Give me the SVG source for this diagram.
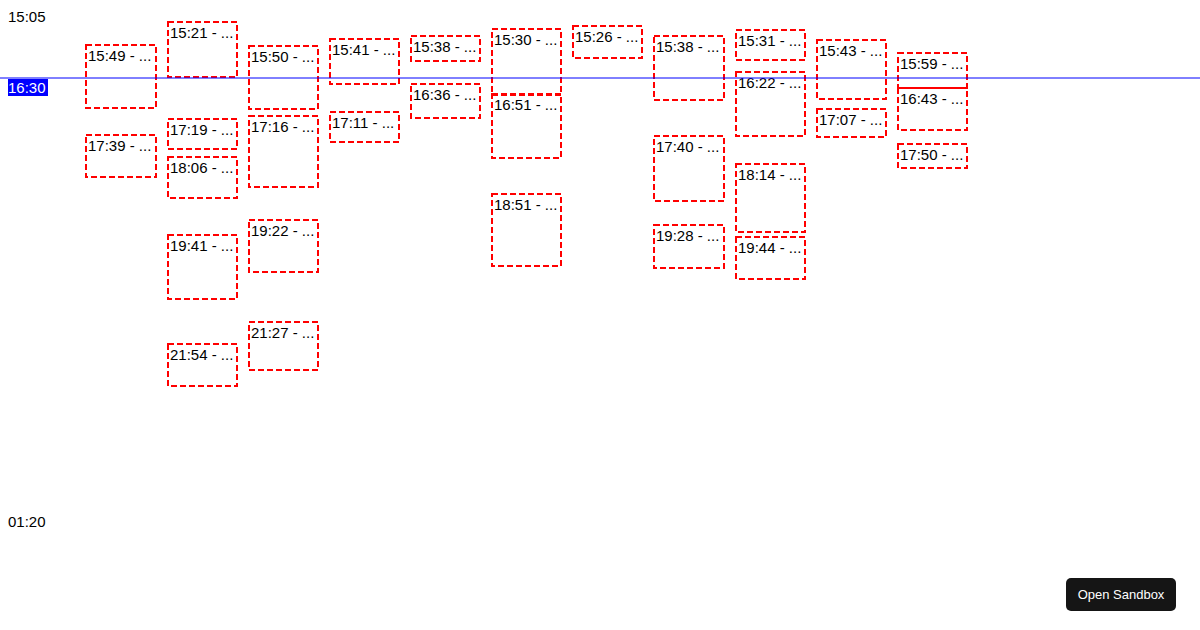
<svg xmlns="http://www.w3.org/2000/svg" width="1200" height="630" viewBox="0 0 1200 630">
<style>
.b{fill:none;stroke:#f00;stroke-width:2;stroke-dasharray:6 3}
text{font-family:"Liberation Sans",Arial,sans-serif;font-size:15px;fill:#000}
</style>
<rect width="1200" height="630" fill="#fff"/>
<text x="8" y="22">15:05</text>
<text x="8" y="527">01:20</text>
<g id="boxes">
<g id="n1"><rect class="b" x="86" y="45" width="70" height="63"/><text x="88" y="61">15:49 - ...</text></g>
<g id="n2"><rect class="b" x="86" y="135" width="70" height="42"/><text x="88" y="151">17:39 - ...</text></g>
<g id="n3"><rect class="b" x="168" y="22" width="69" height="55"/><text x="170" y="38">15:21 - ...</text></g>
<g id="n4"><rect class="b" x="168" y="119" width="69" height="30"/><text x="170" y="135">17:19 - ...</text></g>
<g id="n5"><rect class="b" x="168" y="157" width="69" height="41"/><text x="170" y="173">18:06 - ...</text></g>
<g id="n6"><rect class="b" x="168" y="235" width="69" height="64"/><text x="170" y="251">19:41 - ...</text></g>
<g id="n7"><rect class="b" x="168" y="344" width="69" height="42"/><text x="170" y="360">21:54 - ...</text></g>
<g id="n8"><rect class="b" x="249" y="46" width="69" height="63"/><text x="251" y="62">15:50 - ...</text></g>
<g id="n9"><rect class="b" x="249" y="116" width="69" height="71"/><text x="251" y="132">17:16 - ...</text></g>
<g id="n10"><rect class="b" x="249" y="220" width="69" height="52"/><text x="251" y="236">19:22 - ...</text></g>
<g id="n11"><rect class="b" x="249" y="322" width="69" height="48"/><text x="251" y="338">21:27 - ...</text></g>
<g id="n12"><rect class="b" x="330" y="39" width="69" height="45"/><text x="332" y="55">15:41 - ...</text></g>
<g id="n13"><rect class="b" x="330" y="112" width="69" height="30"/><text x="332" y="128">17:11 - ...</text></g>
<g id="n14"><rect class="b" x="411" y="36" width="69" height="25"/><text x="413" y="52">15:38 - ...</text></g>
<g id="n15"><rect class="b" x="411" y="84" width="69" height="34"/><text x="413" y="100">16:36 - ...</text></g>
<g id="n16"><rect class="b" x="492" y="29" width="69" height="66"/><text x="494" y="45">15:30 - ...</text></g>
<g id="n17"><rect class="b" x="492" y="94" width="69" height="64"/><text x="494" y="110">16:51 - ...</text></g>
<g id="n18"><rect class="b" x="492" y="194" width="69" height="72"/><text x="494" y="210">18:51 - ...</text></g>
<g id="n19"><rect class="b" x="573" y="26" width="69" height="32"/><text x="575" y="42">15:26 - ...</text></g>
<g id="n20"><rect class="b" x="654" y="36" width="70" height="64"/><text x="656" y="52">15:38 - ...</text></g>
<g id="n21"><rect class="b" x="654" y="136" width="70" height="65"/><text x="656" y="152">17:40 - ...</text></g>
<g id="n22"><rect class="b" x="654" y="225" width="70" height="43"/><text x="656" y="241">19:28 - ...</text></g>
<g id="n23"><rect class="b" x="736" y="30" width="69" height="30"/><text x="738" y="46">15:31 - ...</text></g>
<g id="n24"><rect class="b" x="736" y="72" width="69" height="64"/><text x="738" y="88">16:22 - ...</text></g>
<g id="n25"><rect class="b" x="736" y="164" width="69" height="68"/><text x="738" y="180">18:14 - ...</text></g>
<g id="n26"><rect class="b" x="736" y="237" width="69" height="42"/><text x="738" y="253">19:44 - ...</text></g>
<g id="n27"><rect class="b" x="817" y="40" width="69" height="59"/><text x="819" y="56">15:43 - ...</text></g>
<g id="n28"><rect class="b" x="817" y="109" width="69" height="28"/><text x="819" y="125">17:07 - ...</text></g>
<g id="n29"><rect class="b" x="898" y="53" width="69" height="35"/><text x="900" y="69">15:59 - ...</text></g>
<g id="n30"><rect class="b" x="898" y="88" width="69" height="42"/><text x="900" y="104">16:43 - ...</text></g>
<g id="n31"><rect class="b" x="898" y="144" width="69" height="24"/><text x="900" y="160">17:50 - ...</text></g>
</g>
<g id="now">
<line x1="0" y1="78" x2="1200" y2="78" stroke="#00f" stroke-width="1"/>
<rect x="8" y="79" width="40" height="17" fill="#00f"/>
<text x="8" y="93" style="fill:#fff">16:30</text>
</g>
<g id="btn">
<rect x="1066" y="578" width="110" height="33" rx="5" fill="#151515"/>
<text x="1121" y="599" text-anchor="middle" style="fill:#fff;font-size:13px">Open Sandbox</text>
</g>
</svg>
